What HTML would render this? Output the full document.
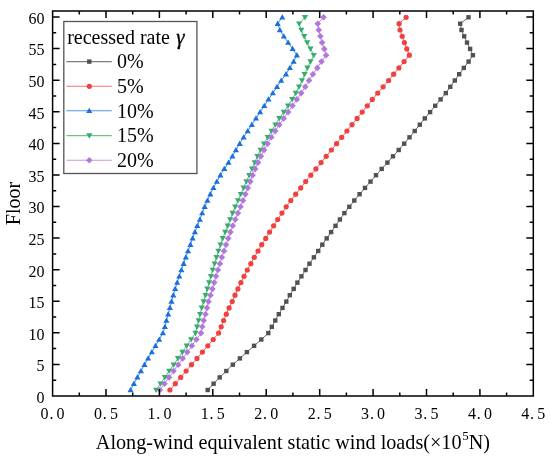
<!DOCTYPE html>
<html><head><meta charset="utf-8"><title>Along-wind equivalent static wind loads</title>
<style>
html,body{margin:0;padding:0;background:#fff;}
body{width:550px;height:457px;overflow:hidden;}
svg{display:block;}
text{font-family:"Liberation Serif","Times New Roman",serif;fill:#000;}
.tk{font-size:16px;}
.lb{font-size:20px;}
.lg{font-size:20px;}
</style></head><body>
<svg width="550" height="457" viewBox="0 0 550 457">
<rect width="550" height="457" fill="#fff"/>

<polyline fill="none" stroke="#515151" stroke-width="1" stroke-opacity="0.85" points="207.7,390.0 213.6,383.7 219.7,377.4 226.3,371.0 232.8,364.7 239.9,358.4 246.9,352.1 254.1,345.8 261.3,339.5 268.3,333.1 271.8,326.8 275.3,320.5 278.8,314.2 282.5,307.9 286.3,301.6 289.8,295.2 293.7,288.9 297.4,282.6 301.4,276.3 305.5,270.0 309.5,263.7 313.9,257.3 318.2,251.0 322.3,244.7 326.7,238.4 331.1,232.1 335.5,225.8 339.9,219.5 344.4,213.1 349.3,206.8 354.3,200.5 359.6,194.2 365.0,187.9 370.5,181.6 376.0,175.2 381.7,168.9 387.4,162.6 393.0,156.3 398.7,150.0 404.2,143.7 409.5,137.3 414.7,131.0 419.8,124.7 424.8,118.4 430.1,112.1 435.2,105.8 440.6,99.4 445.8,93.1 450.3,86.8 454.8,80.5 459.2,74.2 463.8,67.9 468.6,61.6 472.9,55.2 470.1,48.9 467.0,42.6 464.2,36.3 461.5,30.0 460.2,23.7 468.5,17.3"/>
<g><rect x="205.5" y="387.8" width="4.4" height="4.4" fill="#515151"/><rect x="211.4" y="381.5" width="4.4" height="4.4" fill="#515151"/><rect x="217.5" y="375.2" width="4.4" height="4.4" fill="#515151"/><rect x="224.1" y="368.8" width="4.4" height="4.4" fill="#515151"/><rect x="230.6" y="362.5" width="4.4" height="4.4" fill="#515151"/><rect x="237.7" y="356.2" width="4.4" height="4.4" fill="#515151"/><rect x="244.7" y="349.9" width="4.4" height="4.4" fill="#515151"/><rect x="251.9" y="343.6" width="4.4" height="4.4" fill="#515151"/><rect x="259.1" y="337.3" width="4.4" height="4.4" fill="#515151"/><rect x="266.1" y="330.9" width="4.4" height="4.4" fill="#515151"/><rect x="269.6" y="324.6" width="4.4" height="4.4" fill="#515151"/><rect x="273.1" y="318.3" width="4.4" height="4.4" fill="#515151"/><rect x="276.6" y="312.0" width="4.4" height="4.4" fill="#515151"/><rect x="280.3" y="305.7" width="4.4" height="4.4" fill="#515151"/><rect x="284.1" y="299.4" width="4.4" height="4.4" fill="#515151"/><rect x="287.6" y="293.0" width="4.4" height="4.4" fill="#515151"/><rect x="291.5" y="286.7" width="4.4" height="4.4" fill="#515151"/><rect x="295.2" y="280.4" width="4.4" height="4.4" fill="#515151"/><rect x="299.2" y="274.1" width="4.4" height="4.4" fill="#515151"/><rect x="303.3" y="267.8" width="4.4" height="4.4" fill="#515151"/><rect x="307.3" y="261.5" width="4.4" height="4.4" fill="#515151"/><rect x="311.7" y="255.1" width="4.4" height="4.4" fill="#515151"/><rect x="316.0" y="248.8" width="4.4" height="4.4" fill="#515151"/><rect x="320.1" y="242.5" width="4.4" height="4.4" fill="#515151"/><rect x="324.5" y="236.2" width="4.4" height="4.4" fill="#515151"/><rect x="328.9" y="229.9" width="4.4" height="4.4" fill="#515151"/><rect x="333.3" y="223.6" width="4.4" height="4.4" fill="#515151"/><rect x="337.7" y="217.3" width="4.4" height="4.4" fill="#515151"/><rect x="342.2" y="210.9" width="4.4" height="4.4" fill="#515151"/><rect x="347.1" y="204.6" width="4.4" height="4.4" fill="#515151"/><rect x="352.1" y="198.3" width="4.4" height="4.4" fill="#515151"/><rect x="357.4" y="192.0" width="4.4" height="4.4" fill="#515151"/><rect x="362.8" y="185.7" width="4.4" height="4.4" fill="#515151"/><rect x="368.3" y="179.4" width="4.4" height="4.4" fill="#515151"/><rect x="373.8" y="173.0" width="4.4" height="4.4" fill="#515151"/><rect x="379.5" y="166.7" width="4.4" height="4.4" fill="#515151"/><rect x="385.2" y="160.4" width="4.4" height="4.4" fill="#515151"/><rect x="390.8" y="154.1" width="4.4" height="4.4" fill="#515151"/><rect x="396.5" y="147.8" width="4.4" height="4.4" fill="#515151"/><rect x="402.0" y="141.5" width="4.4" height="4.4" fill="#515151"/><rect x="407.3" y="135.1" width="4.4" height="4.4" fill="#515151"/><rect x="412.5" y="128.8" width="4.4" height="4.4" fill="#515151"/><rect x="417.6" y="122.5" width="4.4" height="4.4" fill="#515151"/><rect x="422.6" y="116.2" width="4.4" height="4.4" fill="#515151"/><rect x="427.9" y="109.9" width="4.4" height="4.4" fill="#515151"/><rect x="433.0" y="103.6" width="4.4" height="4.4" fill="#515151"/><rect x="438.4" y="97.2" width="4.4" height="4.4" fill="#515151"/><rect x="443.6" y="90.9" width="4.4" height="4.4" fill="#515151"/><rect x="448.1" y="84.6" width="4.4" height="4.4" fill="#515151"/><rect x="452.6" y="78.3" width="4.4" height="4.4" fill="#515151"/><rect x="457.0" y="72.0" width="4.4" height="4.4" fill="#515151"/><rect x="461.6" y="65.7" width="4.4" height="4.4" fill="#515151"/><rect x="466.4" y="59.4" width="4.4" height="4.4" fill="#515151"/><rect x="470.7" y="53.0" width="4.4" height="4.4" fill="#515151"/><rect x="467.9" y="46.7" width="4.4" height="4.4" fill="#515151"/><rect x="464.8" y="40.4" width="4.4" height="4.4" fill="#515151"/><rect x="462.0" y="34.1" width="4.4" height="4.4" fill="#515151"/><rect x="459.3" y="27.8" width="4.4" height="4.4" fill="#515151"/><rect x="458.0" y="21.5" width="4.4" height="4.4" fill="#515151"/><rect x="466.3" y="15.1" width="4.4" height="4.4" fill="#515151"/></g>
<polyline fill="none" stroke="#f14040" stroke-width="1" stroke-opacity="0.85" points="169.9,390.0 175.3,383.7 180.7,377.4 186.1,371.0 191.5,364.7 197.0,358.4 202.4,352.1 207.8,345.8 213.2,339.5 218.6,333.1 221.2,326.8 223.6,320.5 226.3,314.2 229.1,307.9 232.2,301.6 235.0,295.2 237.9,288.9 240.9,282.6 244.0,276.3 247.3,270.0 250.8,263.7 254.3,257.3 258.0,251.0 261.7,244.7 265.7,238.4 269.6,232.1 273.6,225.8 277.7,219.5 281.9,213.1 286.2,206.8 290.8,200.5 295.7,194.2 300.7,187.9 305.7,181.6 310.8,175.2 315.9,168.9 321.1,162.6 326.2,156.3 331.4,150.0 336.6,143.7 341.7,137.3 346.9,131.0 352.0,124.7 357.1,118.4 362.2,112.1 367.3,105.8 372.3,99.4 377.7,93.1 383.1,86.8 388.6,80.5 393.6,74.2 398.9,67.9 404.1,61.6 409.4,55.2 406.8,48.9 404.4,42.6 402.2,36.3 400.0,30.0 399.1,23.7 406.1,17.3"/>
<g><circle cx="169.9" cy="390.0" r="2.6" fill="#f14040"/><circle cx="175.3" cy="383.7" r="2.6" fill="#f14040"/><circle cx="180.7" cy="377.4" r="2.6" fill="#f14040"/><circle cx="186.1" cy="371.0" r="2.6" fill="#f14040"/><circle cx="191.5" cy="364.7" r="2.6" fill="#f14040"/><circle cx="197.0" cy="358.4" r="2.6" fill="#f14040"/><circle cx="202.4" cy="352.1" r="2.6" fill="#f14040"/><circle cx="207.8" cy="345.8" r="2.6" fill="#f14040"/><circle cx="213.2" cy="339.5" r="2.6" fill="#f14040"/><circle cx="218.6" cy="333.1" r="2.6" fill="#f14040"/><circle cx="221.2" cy="326.8" r="2.6" fill="#f14040"/><circle cx="223.6" cy="320.5" r="2.6" fill="#f14040"/><circle cx="226.3" cy="314.2" r="2.6" fill="#f14040"/><circle cx="229.1" cy="307.9" r="2.6" fill="#f14040"/><circle cx="232.2" cy="301.6" r="2.6" fill="#f14040"/><circle cx="235.0" cy="295.2" r="2.6" fill="#f14040"/><circle cx="237.9" cy="288.9" r="2.6" fill="#f14040"/><circle cx="240.9" cy="282.6" r="2.6" fill="#f14040"/><circle cx="244.0" cy="276.3" r="2.6" fill="#f14040"/><circle cx="247.3" cy="270.0" r="2.6" fill="#f14040"/><circle cx="250.8" cy="263.7" r="2.6" fill="#f14040"/><circle cx="254.3" cy="257.3" r="2.6" fill="#f14040"/><circle cx="258.0" cy="251.0" r="2.6" fill="#f14040"/><circle cx="261.7" cy="244.7" r="2.6" fill="#f14040"/><circle cx="265.7" cy="238.4" r="2.6" fill="#f14040"/><circle cx="269.6" cy="232.1" r="2.6" fill="#f14040"/><circle cx="273.6" cy="225.8" r="2.6" fill="#f14040"/><circle cx="277.7" cy="219.5" r="2.6" fill="#f14040"/><circle cx="281.9" cy="213.1" r="2.6" fill="#f14040"/><circle cx="286.2" cy="206.8" r="2.6" fill="#f14040"/><circle cx="290.8" cy="200.5" r="2.6" fill="#f14040"/><circle cx="295.7" cy="194.2" r="2.6" fill="#f14040"/><circle cx="300.7" cy="187.9" r="2.6" fill="#f14040"/><circle cx="305.7" cy="181.6" r="2.6" fill="#f14040"/><circle cx="310.8" cy="175.2" r="2.6" fill="#f14040"/><circle cx="315.9" cy="168.9" r="2.6" fill="#f14040"/><circle cx="321.1" cy="162.6" r="2.6" fill="#f14040"/><circle cx="326.2" cy="156.3" r="2.6" fill="#f14040"/><circle cx="331.4" cy="150.0" r="2.6" fill="#f14040"/><circle cx="336.6" cy="143.7" r="2.6" fill="#f14040"/><circle cx="341.7" cy="137.3" r="2.6" fill="#f14040"/><circle cx="346.9" cy="131.0" r="2.6" fill="#f14040"/><circle cx="352.0" cy="124.7" r="2.6" fill="#f14040"/><circle cx="357.1" cy="118.4" r="2.6" fill="#f14040"/><circle cx="362.2" cy="112.1" r="2.6" fill="#f14040"/><circle cx="367.3" cy="105.8" r="2.6" fill="#f14040"/><circle cx="372.3" cy="99.4" r="2.6" fill="#f14040"/><circle cx="377.7" cy="93.1" r="2.6" fill="#f14040"/><circle cx="383.1" cy="86.8" r="2.6" fill="#f14040"/><circle cx="388.6" cy="80.5" r="2.6" fill="#f14040"/><circle cx="393.6" cy="74.2" r="2.6" fill="#f14040"/><circle cx="398.9" cy="67.9" r="2.6" fill="#f14040"/><circle cx="404.1" cy="61.6" r="2.6" fill="#f14040"/><circle cx="409.4" cy="55.2" r="2.6" fill="#f14040"/><circle cx="406.8" cy="48.9" r="2.6" fill="#f14040"/><circle cx="404.4" cy="42.6" r="2.6" fill="#f14040"/><circle cx="402.2" cy="36.3" r="2.6" fill="#f14040"/><circle cx="400.0" cy="30.0" r="2.6" fill="#f14040"/><circle cx="399.1" cy="23.7" r="2.6" fill="#f14040"/><circle cx="406.1" cy="17.3" r="2.6" fill="#f14040"/></g>
<polyline fill="none" stroke="#1a6fdf" stroke-width="1" stroke-opacity="0.85" points="130.5,390.0 133.9,383.7 137.4,377.4 140.9,371.0 144.5,364.7 148.1,358.4 151.8,352.1 155.5,345.8 159.2,339.5 162.9,333.1 164.9,326.8 166.4,320.5 168.2,314.2 169.9,307.9 171.5,301.6 173.3,295.2 175.2,288.9 177.2,282.6 179.3,276.3 181.4,270.0 183.6,263.7 185.8,257.3 188.0,251.0 190.4,244.7 192.6,238.4 194.9,232.1 197.3,225.8 199.8,219.5 202.2,213.1 204.7,206.8 207.4,200.5 210.3,194.2 213.4,187.9 216.8,181.6 220.4,175.2 224.3,168.9 228.5,162.6 232.4,156.3 235.9,150.0 239.7,143.7 243.6,137.3 247.7,131.0 251.8,124.7 256.0,118.4 260.1,112.1 264.3,105.8 268.5,99.4 272.8,93.1 277.0,86.8 281.2,80.5 286.0,74.2 289.9,67.9 293.6,61.6 296.9,55.2 292.6,48.9 288.2,42.6 283.8,36.3 279.9,30.0 277.7,23.7 282.3,17.3"/>
<g><path d="M127.5 392.2L133.6 392.2L130.5 386.9Z" fill="#1a6fdf"/><path d="M130.8 385.9L137.0 385.9L133.9 380.6Z" fill="#1a6fdf"/><path d="M134.3 379.6L140.5 379.6L137.4 374.3Z" fill="#1a6fdf"/><path d="M137.8 373.2L144.0 373.2L140.9 367.9Z" fill="#1a6fdf"/><path d="M141.4 366.9L147.6 366.9L144.5 361.6Z" fill="#1a6fdf"/><path d="M145.0 360.6L151.2 360.6L148.1 355.3Z" fill="#1a6fdf"/><path d="M148.8 354.3L154.9 354.3L151.8 349.0Z" fill="#1a6fdf"/><path d="M152.4 348.0L158.6 348.0L155.5 342.7Z" fill="#1a6fdf"/><path d="M156.1 341.7L162.2 341.7L159.2 336.4Z" fill="#1a6fdf"/><path d="M159.8 335.3L166.0 335.3L162.9 330.0Z" fill="#1a6fdf"/><path d="M161.8 329.0L168.0 329.0L164.9 323.7Z" fill="#1a6fdf"/><path d="M163.3 322.7L169.5 322.7L166.4 317.4Z" fill="#1a6fdf"/><path d="M165.1 316.4L171.2 316.4L168.2 311.1Z" fill="#1a6fdf"/><path d="M166.8 310.1L173.0 310.1L169.9 304.8Z" fill="#1a6fdf"/><path d="M168.4 303.8L174.6 303.8L171.5 298.5Z" fill="#1a6fdf"/><path d="M170.2 297.4L176.4 297.4L173.3 292.1Z" fill="#1a6fdf"/><path d="M172.1 291.1L178.2 291.1L175.2 285.8Z" fill="#1a6fdf"/><path d="M174.1 284.8L180.2 284.8L177.2 279.5Z" fill="#1a6fdf"/><path d="M176.2 278.5L182.4 278.5L179.3 273.2Z" fill="#1a6fdf"/><path d="M178.3 272.2L184.5 272.2L181.4 266.9Z" fill="#1a6fdf"/><path d="M180.5 265.9L186.7 265.9L183.6 260.6Z" fill="#1a6fdf"/><path d="M182.8 259.5L188.9 259.5L185.8 254.2Z" fill="#1a6fdf"/><path d="M184.9 253.2L191.1 253.2L188.0 247.9Z" fill="#1a6fdf"/><path d="M187.3 246.9L193.5 246.9L190.4 241.6Z" fill="#1a6fdf"/><path d="M189.5 240.6L195.7 240.6L192.6 235.3Z" fill="#1a6fdf"/><path d="M191.8 234.3L198.0 234.3L194.9 229.0Z" fill="#1a6fdf"/><path d="M194.2 228.0L200.4 228.0L197.3 222.7Z" fill="#1a6fdf"/><path d="M196.8 221.7L202.9 221.7L199.8 216.4Z" fill="#1a6fdf"/><path d="M199.1 215.3L205.2 215.3L202.2 210.0Z" fill="#1a6fdf"/><path d="M201.6 209.0L207.8 209.0L204.7 203.7Z" fill="#1a6fdf"/><path d="M204.3 202.7L210.5 202.7L207.4 197.4Z" fill="#1a6fdf"/><path d="M207.2 196.4L213.4 196.4L210.3 191.1Z" fill="#1a6fdf"/><path d="M210.3 190.1L216.5 190.1L213.4 184.8Z" fill="#1a6fdf"/><path d="M213.8 183.8L219.9 183.8L216.8 178.5Z" fill="#1a6fdf"/><path d="M217.3 177.4L223.5 177.4L220.4 172.1Z" fill="#1a6fdf"/><path d="M221.2 171.1L227.4 171.1L224.3 165.8Z" fill="#1a6fdf"/><path d="M225.4 164.8L231.6 164.8L228.5 159.5Z" fill="#1a6fdf"/><path d="M229.3 158.5L235.5 158.5L232.4 153.2Z" fill="#1a6fdf"/><path d="M232.8 152.2L239.0 152.2L235.9 146.9Z" fill="#1a6fdf"/><path d="M236.6 145.9L242.8 145.9L239.7 140.6Z" fill="#1a6fdf"/><path d="M240.5 139.5L246.7 139.5L243.6 134.2Z" fill="#1a6fdf"/><path d="M244.6 133.2L250.8 133.2L247.7 127.9Z" fill="#1a6fdf"/><path d="M248.8 126.9L254.9 126.9L251.8 121.6Z" fill="#1a6fdf"/><path d="M252.9 120.6L259.1 120.6L256.0 115.3Z" fill="#1a6fdf"/><path d="M257.1 114.3L263.2 114.3L260.1 109.0Z" fill="#1a6fdf"/><path d="M261.2 108.0L267.4 108.0L264.3 102.7Z" fill="#1a6fdf"/><path d="M265.4 101.6L271.6 101.6L268.5 96.3Z" fill="#1a6fdf"/><path d="M269.8 95.3L275.9 95.3L272.8 90.0Z" fill="#1a6fdf"/><path d="M273.9 89.0L280.1 89.0L277.0 83.7Z" fill="#1a6fdf"/><path d="M278.1 82.7L284.2 82.7L281.2 77.4Z" fill="#1a6fdf"/><path d="M282.9 76.4L289.1 76.4L286.0 71.1Z" fill="#1a6fdf"/><path d="M286.8 70.1L292.9 70.1L289.9 64.8Z" fill="#1a6fdf"/><path d="M290.6 63.8L296.7 63.8L293.6 58.5Z" fill="#1a6fdf"/><path d="M293.8 57.4L299.9 57.4L296.9 52.1Z" fill="#1a6fdf"/><path d="M289.6 51.1L295.7 51.1L292.6 45.8Z" fill="#1a6fdf"/><path d="M285.1 44.8L291.2 44.8L288.2 39.5Z" fill="#1a6fdf"/><path d="M280.8 38.5L286.9 38.5L283.8 33.2Z" fill="#1a6fdf"/><path d="M276.8 32.2L282.9 32.2L279.9 26.9Z" fill="#1a6fdf"/><path d="M274.6 25.9L280.8 25.9L277.7 20.6Z" fill="#1a6fdf"/><path d="M279.2 19.5L285.3 19.5L282.3 14.2Z" fill="#1a6fdf"/></g>
<polyline fill="none" stroke="#37ad6b" stroke-width="1" stroke-opacity="0.85" points="156.1,390.0 160.5,383.7 164.9,377.4 169.2,371.0 173.6,364.7 178.0,358.4 182.4,352.1 186.7,345.8 191.1,339.5 195.5,333.1 197.0,326.8 198.6,320.5 200.1,314.2 201.7,307.9 203.6,301.6 205.5,295.2 207.3,288.9 209.1,282.6 210.9,276.3 212.7,270.0 214.6,263.7 216.5,257.3 218.4,251.0 220.5,244.7 222.7,238.4 225.2,232.1 227.7,225.8 230.1,219.5 232.6,213.1 235.2,206.8 238.0,200.5 240.8,194.2 243.6,187.9 246.4,181.6 249.2,175.2 252.0,168.9 254.7,162.6 257.4,156.3 260.6,150.0 264.0,143.7 267.7,137.3 271.5,131.0 275.4,124.7 279.3,118.4 283.8,112.1 288.0,105.8 292.2,99.4 295.8,93.1 299.0,86.8 302.0,80.5 304.6,74.2 307.4,67.9 310.5,61.6 313.8,55.2 310.5,48.9 307.2,42.6 304.2,36.3 301.3,30.0 299.1,23.7 305.0,17.3"/>
<g><path d="M153.0 387.7L159.2 387.7L156.1 393.1Z" fill="#37ad6b"/><path d="M157.4 381.4L163.6 381.4L160.5 386.8Z" fill="#37ad6b"/><path d="M161.8 375.1L168.0 375.1L164.9 380.5Z" fill="#37ad6b"/><path d="M166.1 368.7L172.3 368.7L169.2 374.1Z" fill="#37ad6b"/><path d="M170.5 362.4L176.7 362.4L173.6 367.8Z" fill="#37ad6b"/><path d="M174.9 356.1L181.1 356.1L178.0 361.5Z" fill="#37ad6b"/><path d="M179.3 349.8L185.5 349.8L182.4 355.2Z" fill="#37ad6b"/><path d="M183.6 343.5L189.8 343.5L186.7 348.9Z" fill="#37ad6b"/><path d="M188.0 337.2L194.2 337.2L191.1 342.6Z" fill="#37ad6b"/><path d="M192.4 330.8L198.6 330.8L195.5 336.2Z" fill="#37ad6b"/><path d="M193.9 324.5L200.1 324.5L197.0 329.9Z" fill="#37ad6b"/><path d="M195.5 318.2L201.7 318.2L198.6 323.6Z" fill="#37ad6b"/><path d="M197.0 311.9L203.2 311.9L200.1 317.3Z" fill="#37ad6b"/><path d="M198.6 305.6L204.8 305.6L201.7 311.0Z" fill="#37ad6b"/><path d="M200.5 299.3L206.7 299.3L203.6 304.7Z" fill="#37ad6b"/><path d="M202.4 292.9L208.6 292.9L205.5 298.3Z" fill="#37ad6b"/><path d="M204.2 286.6L210.4 286.6L207.3 292.0Z" fill="#37ad6b"/><path d="M206.0 280.3L212.2 280.3L209.1 285.7Z" fill="#37ad6b"/><path d="M207.8 274.0L214.0 274.0L210.9 279.4Z" fill="#37ad6b"/><path d="M209.6 267.7L215.8 267.7L212.7 273.1Z" fill="#37ad6b"/><path d="M211.5 261.4L217.7 261.4L214.6 266.8Z" fill="#37ad6b"/><path d="M213.4 255.0L219.6 255.0L216.5 260.4Z" fill="#37ad6b"/><path d="M215.3 248.7L221.5 248.7L218.4 254.1Z" fill="#37ad6b"/><path d="M217.4 242.4L223.6 242.4L220.5 247.8Z" fill="#37ad6b"/><path d="M219.6 236.1L225.8 236.1L222.7 241.5Z" fill="#37ad6b"/><path d="M222.1 229.8L228.3 229.8L225.2 235.2Z" fill="#37ad6b"/><path d="M224.6 223.5L230.8 223.5L227.7 228.9Z" fill="#37ad6b"/><path d="M227.0 217.2L233.2 217.2L230.1 222.6Z" fill="#37ad6b"/><path d="M229.5 210.8L235.7 210.8L232.6 216.2Z" fill="#37ad6b"/><path d="M232.1 204.5L238.3 204.5L235.2 209.9Z" fill="#37ad6b"/><path d="M234.9 198.2L241.1 198.2L238.0 203.6Z" fill="#37ad6b"/><path d="M237.7 191.9L243.9 191.9L240.8 197.3Z" fill="#37ad6b"/><path d="M240.5 185.6L246.7 185.6L243.6 191.0Z" fill="#37ad6b"/><path d="M243.3 179.3L249.5 179.3L246.4 184.7Z" fill="#37ad6b"/><path d="M246.1 172.9L252.3 172.9L249.2 178.3Z" fill="#37ad6b"/><path d="M248.9 166.6L255.1 166.6L252.0 172.0Z" fill="#37ad6b"/><path d="M251.6 160.3L257.8 160.3L254.7 165.7Z" fill="#37ad6b"/><path d="M254.3 154.0L260.5 154.0L257.4 159.4Z" fill="#37ad6b"/><path d="M257.5 147.7L263.7 147.7L260.6 153.1Z" fill="#37ad6b"/><path d="M260.9 141.4L267.1 141.4L264.0 146.8Z" fill="#37ad6b"/><path d="M264.6 135.0L270.8 135.0L267.7 140.4Z" fill="#37ad6b"/><path d="M268.4 128.7L274.6 128.7L271.5 134.1Z" fill="#37ad6b"/><path d="M272.3 122.4L278.5 122.4L275.4 127.8Z" fill="#37ad6b"/><path d="M276.2 116.1L282.4 116.1L279.3 121.5Z" fill="#37ad6b"/><path d="M280.7 109.8L286.9 109.8L283.8 115.2Z" fill="#37ad6b"/><path d="M284.9 103.5L291.1 103.5L288.0 108.9Z" fill="#37ad6b"/><path d="M289.1 97.1L295.3 97.1L292.2 102.5Z" fill="#37ad6b"/><path d="M292.7 90.8L298.9 90.8L295.8 96.2Z" fill="#37ad6b"/><path d="M295.9 84.5L302.1 84.5L299.0 89.9Z" fill="#37ad6b"/><path d="M298.9 78.2L305.1 78.2L302.0 83.6Z" fill="#37ad6b"/><path d="M301.5 71.9L307.7 71.9L304.6 77.3Z" fill="#37ad6b"/><path d="M304.3 65.6L310.5 65.6L307.4 71.0Z" fill="#37ad6b"/><path d="M307.4 59.3L313.6 59.3L310.5 64.7Z" fill="#37ad6b"/><path d="M310.7 52.9L316.9 52.9L313.8 58.3Z" fill="#37ad6b"/><path d="M307.4 46.6L313.6 46.6L310.5 52.0Z" fill="#37ad6b"/><path d="M304.1 40.3L310.3 40.3L307.2 45.7Z" fill="#37ad6b"/><path d="M301.1 34.0L307.3 34.0L304.2 39.4Z" fill="#37ad6b"/><path d="M298.2 27.7L304.4 27.7L301.3 33.1Z" fill="#37ad6b"/><path d="M296.0 21.4L302.2 21.4L299.1 26.8Z" fill="#37ad6b"/><path d="M301.9 15.0L308.1 15.0L305.0 20.4Z" fill="#37ad6b"/></g>
<polyline fill="none" stroke="#b177de" stroke-width="1" stroke-opacity="0.85" points="159.9,390.0 164.5,383.7 169.0,377.4 173.6,371.0 178.2,364.7 182.7,358.4 187.3,352.1 191.9,345.8 196.4,339.5 201.0,333.1 202.2,326.8 203.7,320.5 205.5,314.2 207.0,307.9 208.5,301.6 210.5,295.2 212.4,288.9 214.2,282.6 216.0,276.3 217.9,270.0 219.9,263.7 221.9,257.3 224.0,251.0 226.0,244.7 228.2,238.4 230.4,232.1 232.8,225.8 235.3,219.5 237.9,213.1 240.5,206.8 243.0,200.5 245.4,194.2 247.8,187.9 250.2,181.6 252.6,175.2 255.2,168.9 258.0,162.6 260.9,156.3 264.1,150.0 267.6,143.7 271.3,137.3 275.3,131.0 279.3,124.7 283.7,118.4 288.1,112.1 292.5,105.8 296.8,99.4 301.2,93.1 305.3,86.8 309.0,80.5 312.9,74.2 317.3,67.9 321.5,61.6 326.1,55.2 324.3,48.9 322.1,42.6 320.4,36.3 318.8,30.0 317.7,23.7 323.6,17.3"/>
<g><path d="M156.6 390.0L159.9 386.7L163.2 390.0L159.9 393.3Z" fill="#b177de"/><path d="M161.2 383.7L164.5 380.4L167.8 383.7L164.5 387.0Z" fill="#b177de"/><path d="M165.7 377.4L169.0 374.1L172.3 377.4L169.0 380.7Z" fill="#b177de"/><path d="M170.3 371.0L173.6 367.7L176.9 371.0L173.6 374.3Z" fill="#b177de"/><path d="M174.9 364.7L178.2 361.4L181.5 364.7L178.2 368.0Z" fill="#b177de"/><path d="M179.4 358.4L182.7 355.1L186.0 358.4L182.7 361.7Z" fill="#b177de"/><path d="M184.0 352.1L187.3 348.8L190.6 352.1L187.3 355.4Z" fill="#b177de"/><path d="M188.6 345.8L191.9 342.5L195.2 345.8L191.9 349.1Z" fill="#b177de"/><path d="M193.1 339.5L196.4 336.2L199.7 339.5L196.4 342.8Z" fill="#b177de"/><path d="M197.7 333.1L201.0 329.8L204.3 333.1L201.0 336.4Z" fill="#b177de"/><path d="M198.9 326.8L202.2 323.5L205.5 326.8L202.2 330.1Z" fill="#b177de"/><path d="M200.4 320.5L203.7 317.2L207.0 320.5L203.7 323.8Z" fill="#b177de"/><path d="M202.2 314.2L205.5 310.9L208.8 314.2L205.5 317.5Z" fill="#b177de"/><path d="M203.7 307.9L207.0 304.6L210.3 307.9L207.0 311.2Z" fill="#b177de"/><path d="M205.2 301.6L208.5 298.3L211.8 301.6L208.5 304.9Z" fill="#b177de"/><path d="M207.2 295.2L210.5 291.9L213.8 295.2L210.5 298.5Z" fill="#b177de"/><path d="M209.1 288.9L212.4 285.6L215.7 288.9L212.4 292.2Z" fill="#b177de"/><path d="M210.9 282.6L214.2 279.3L217.5 282.6L214.2 285.9Z" fill="#b177de"/><path d="M212.7 276.3L216.0 273.0L219.3 276.3L216.0 279.6Z" fill="#b177de"/><path d="M214.6 270.0L217.9 266.7L221.2 270.0L217.9 273.3Z" fill="#b177de"/><path d="M216.6 263.7L219.9 260.4L223.2 263.7L219.9 267.0Z" fill="#b177de"/><path d="M218.6 257.3L221.9 254.0L225.2 257.3L221.9 260.6Z" fill="#b177de"/><path d="M220.7 251.0L224.0 247.7L227.3 251.0L224.0 254.3Z" fill="#b177de"/><path d="M222.7 244.7L226.0 241.4L229.3 244.7L226.0 248.0Z" fill="#b177de"/><path d="M224.9 238.4L228.2 235.1L231.5 238.4L228.2 241.7Z" fill="#b177de"/><path d="M227.1 232.1L230.4 228.8L233.7 232.1L230.4 235.4Z" fill="#b177de"/><path d="M229.5 225.8L232.8 222.5L236.1 225.8L232.8 229.1Z" fill="#b177de"/><path d="M232.0 219.5L235.3 216.2L238.6 219.5L235.3 222.8Z" fill="#b177de"/><path d="M234.6 213.1L237.9 209.8L241.2 213.1L237.9 216.4Z" fill="#b177de"/><path d="M237.2 206.8L240.5 203.5L243.8 206.8L240.5 210.1Z" fill="#b177de"/><path d="M239.7 200.5L243.0 197.2L246.3 200.5L243.0 203.8Z" fill="#b177de"/><path d="M242.1 194.2L245.4 190.9L248.7 194.2L245.4 197.5Z" fill="#b177de"/><path d="M244.5 187.9L247.8 184.6L251.1 187.9L247.8 191.2Z" fill="#b177de"/><path d="M246.9 181.6L250.2 178.3L253.5 181.6L250.2 184.9Z" fill="#b177de"/><path d="M249.3 175.2L252.6 171.9L255.9 175.2L252.6 178.5Z" fill="#b177de"/><path d="M251.9 168.9L255.2 165.6L258.5 168.9L255.2 172.2Z" fill="#b177de"/><path d="M254.7 162.6L258.0 159.3L261.3 162.6L258.0 165.9Z" fill="#b177de"/><path d="M257.6 156.3L260.9 153.0L264.2 156.3L260.9 159.6Z" fill="#b177de"/><path d="M260.8 150.0L264.1 146.7L267.4 150.0L264.1 153.3Z" fill="#b177de"/><path d="M264.3 143.7L267.6 140.4L270.9 143.7L267.6 147.0Z" fill="#b177de"/><path d="M268.0 137.3L271.3 134.0L274.6 137.3L271.3 140.6Z" fill="#b177de"/><path d="M272.0 131.0L275.3 127.7L278.6 131.0L275.3 134.3Z" fill="#b177de"/><path d="M276.0 124.7L279.3 121.4L282.6 124.7L279.3 128.0Z" fill="#b177de"/><path d="M280.4 118.4L283.7 115.1L287.0 118.4L283.7 121.7Z" fill="#b177de"/><path d="M284.8 112.1L288.1 108.8L291.4 112.1L288.1 115.4Z" fill="#b177de"/><path d="M289.2 105.8L292.5 102.5L295.8 105.8L292.5 109.1Z" fill="#b177de"/><path d="M293.5 99.4L296.8 96.1L300.1 99.4L296.8 102.7Z" fill="#b177de"/><path d="M297.9 93.1L301.2 89.8L304.5 93.1L301.2 96.4Z" fill="#b177de"/><path d="M302.0 86.8L305.3 83.5L308.6 86.8L305.3 90.1Z" fill="#b177de"/><path d="M305.7 80.5L309.0 77.2L312.3 80.5L309.0 83.8Z" fill="#b177de"/><path d="M309.6 74.2L312.9 70.9L316.2 74.2L312.9 77.5Z" fill="#b177de"/><path d="M314.0 67.9L317.3 64.6L320.6 67.9L317.3 71.2Z" fill="#b177de"/><path d="M318.2 61.6L321.5 58.3L324.8 61.6L321.5 64.9Z" fill="#b177de"/><path d="M322.8 55.2L326.1 51.9L329.4 55.2L326.1 58.5Z" fill="#b177de"/><path d="M321.0 48.9L324.3 45.6L327.6 48.9L324.3 52.2Z" fill="#b177de"/><path d="M318.8 42.6L322.1 39.3L325.4 42.6L322.1 45.9Z" fill="#b177de"/><path d="M317.1 36.3L320.4 33.0L323.7 36.3L320.4 39.6Z" fill="#b177de"/><path d="M315.5 30.0L318.8 26.7L322.1 30.0L318.8 33.3Z" fill="#b177de"/><path d="M314.4 23.7L317.7 20.4L321.0 23.7L317.7 27.0Z" fill="#b177de"/><path d="M320.3 17.3L323.6 14.0L326.9 17.3L323.6 20.6Z" fill="#b177de"/></g>
<rect x="52.6" y="11.0" width="480.7" height="385.0" fill="none" stroke="#000" stroke-width="1.5"/>
<path d="M79.3 396.0v-3.6M79.3 11.0v3.6M106.0 396.0v-7M106.0 11.0v7M132.7 396.0v-3.6M132.7 11.0v3.6M159.4 396.0v-7M159.4 11.0v7M186.1 396.0v-3.6M186.1 11.0v3.6M212.8 396.0v-7M212.8 11.0v7M239.5 396.0v-3.6M239.5 11.0v3.6M266.2 396.0v-7M266.2 11.0v7M292.9 396.0v-3.6M292.9 11.0v3.6M319.7 396.0v-7M319.7 11.0v7M346.4 396.0v-3.6M346.4 11.0v3.6M373.1 396.0v-7M373.1 11.0v7M399.8 396.0v-3.6M399.8 11.0v3.6M426.5 396.0v-7M426.5 11.0v7M453.2 396.0v-3.6M453.2 11.0v3.6M479.9 396.0v-7M479.9 11.0v7M506.6 396.0v-3.6M506.6 11.0v3.6M52.6 380.2h3.6M533.3 380.2h-3.6M52.6 364.4h7M533.3 364.4h-7M52.6 348.6h3.6M533.3 348.6h-3.6M52.6 332.8h7M533.3 332.8h-7M52.6 317.1h3.6M533.3 317.1h-3.6M52.6 301.3h7M533.3 301.3h-7M52.6 285.5h3.6M533.3 285.5h-3.6M52.6 269.7h7M533.3 269.7h-7M52.6 253.9h3.6M533.3 253.9h-3.6M52.6 238.1h7M533.3 238.1h-7M52.6 222.3h3.6M533.3 222.3h-3.6M52.6 206.5h7M533.3 206.5h-7M52.6 190.7h3.6M533.3 190.7h-3.6M52.6 174.9h7M533.3 174.9h-7M52.6 159.2h3.6M533.3 159.2h-3.6M52.6 143.4h7M533.3 143.4h-7M52.6 127.6h3.6M533.3 127.6h-3.6M52.6 111.8h7M533.3 111.8h-7M52.6 96.0h3.6M533.3 96.0h-3.6M52.6 80.2h7M533.3 80.2h-7M52.6 64.4h3.6M533.3 64.4h-3.6M52.6 48.6h7M533.3 48.6h-7M52.6 32.8h3.6M533.3 32.8h-3.6M52.6 17.0h7M533.3 17.0h-7" stroke="#000" stroke-width="1.5" fill="none"/>
<text class="tk" x="40.6" y="418.5">0<tspan dx="0.8">.</tspan><tspan dx="3.2">0</tspan></text>
<text class="tk" x="94.0" y="418.5">0<tspan dx="0.8">.</tspan><tspan dx="3.2">5</tspan></text>
<text class="tk" x="147.4" y="418.5">1<tspan dx="0.8">.</tspan><tspan dx="3.2">0</tspan></text>
<text class="tk" x="200.8" y="418.5">1<tspan dx="0.8">.</tspan><tspan dx="3.2">5</tspan></text>
<text class="tk" x="254.2" y="418.5">2<tspan dx="0.8">.</tspan><tspan dx="3.2">0</tspan></text>
<text class="tk" x="307.7" y="418.5">2<tspan dx="0.8">.</tspan><tspan dx="3.2">5</tspan></text>
<text class="tk" x="361.1" y="418.5">3<tspan dx="0.8">.</tspan><tspan dx="3.2">0</tspan></text>
<text class="tk" x="414.5" y="418.5">3<tspan dx="0.8">.</tspan><tspan dx="3.2">5</tspan></text>
<text class="tk" x="467.9" y="418.5">4<tspan dx="0.8">.</tspan><tspan dx="3.2">0</tspan></text>
<text class="tk" x="521.3" y="418.5">4<tspan dx="0.8">.</tspan><tspan dx="3.2">5</tspan></text>
<text class="tk" x="44.4" y="402.8" text-anchor="end">0</text>
<text class="tk" x="44.4" y="371.2" text-anchor="end">5</text>
<text class="tk" x="44.4" y="339.6" text-anchor="end">10</text>
<text class="tk" x="44.4" y="308.1" text-anchor="end">15</text>
<text class="tk" x="44.4" y="276.5" text-anchor="end">20</text>
<text class="tk" x="44.4" y="244.9" text-anchor="end">25</text>
<text class="tk" x="44.4" y="213.3" text-anchor="end">30</text>
<text class="tk" x="44.4" y="181.7" text-anchor="end">35</text>
<text class="tk" x="44.4" y="150.2" text-anchor="end">40</text>
<text class="tk" x="44.4" y="118.6" text-anchor="end">45</text>
<text class="tk" x="44.4" y="87.0" text-anchor="end">50</text>
<text class="tk" x="44.4" y="55.4" text-anchor="end">55</text>
<text class="tk" x="44.4" y="23.8" text-anchor="end">60</text>
<text x="292.9" y="448.6" font-size="20.2" text-anchor="middle">Along-wind equivalent static wind loads(×10<tspan font-size="13" dy="-8.8" dx="0.6">5</tspan><tspan dy="8.8">N)</tspan></text>
<text class="lb" transform="translate(19.7 203.5) rotate(-90)" text-anchor="middle">Floor</text>
<rect x="63.8" y="21.5" width="133.1" height="152" fill="#fff" stroke="#555" stroke-width="1.3"/>
<text class="lg" x="67.2" y="44.3">recessed rate <tspan x="176.3" font-style="italic" font-size="21" stroke="#000" stroke-width="0.35">γ</tspan></text>
<path d="M66.4 61.6H111.8" stroke="#515151" stroke-width="1.1" stroke-opacity="0.75"/>
<rect x="87.1" y="59.4" width="4.4" height="4.4" fill="#515151"/>
<text class="lg" x="117" y="68.4">0%</text>
<path d="M66.4 86.3H111.8" stroke="#f14040" stroke-width="1.1" stroke-opacity="0.75"/>
<circle cx="89.3" cy="86.3" r="2.6" fill="#f14040"/>
<text class="lg" x="117" y="93.1">5%</text>
<path d="M66.4 110.8H111.8" stroke="#1a6fdf" stroke-width="1.1" stroke-opacity="0.75"/>
<path d="M86.2 113.0L92.3 113.0L89.3 107.7Z" fill="#1a6fdf"/>
<text class="lg" x="117" y="117.6">10%</text>
<path d="M66.4 135.6H111.8" stroke="#37ad6b" stroke-width="1.1" stroke-opacity="0.75"/>
<path d="M86.2 133.3L92.4 133.3L89.3 138.7Z" fill="#37ad6b"/>
<text class="lg" x="117" y="142.4">15%</text>
<path d="M66.4 160.3H111.8" stroke="#b177de" stroke-width="1.1" stroke-opacity="0.75"/>
<path d="M86.0 160.3L89.3 157.0L92.6 160.3L89.3 163.6Z" fill="#b177de"/>
<text class="lg" x="117" y="167.1">20%</text>
</svg></body></html>
